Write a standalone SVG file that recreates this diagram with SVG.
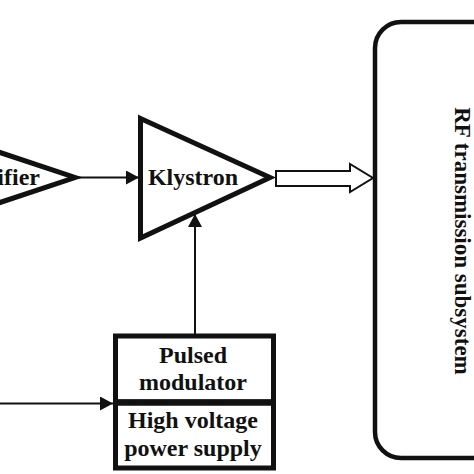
<svg xmlns="http://www.w3.org/2000/svg" width="474" height="474" viewBox="0 0 474 474">
<style>
.t{font-family:"Liberation Serif","Times New Roman",serif;font-weight:bold;font-size:24px;fill:#111;text-anchor:middle}
.s{fill:#fff;stroke:#111;stroke-width:5}
.c{fill:none;stroke:#111;stroke-width:2}
</style>
<defs><marker id="a" markerUnits="userSpaceOnUse" markerWidth="14" markerHeight="14" refX="13" refY="7" orient="auto"><path d="M0 0L13 7L0 14Z" fill="#111"/></marker></defs>
<rect width="474" height="474" fill="#fff"/>
<g id="amplifier"><path class="s" d="M-30 142.500L75 177.500L-30 212.500Z"/><text class="t" x="40" y="184.500" style="text-anchor:end">Amplifier</text></g>
<g id="klystron"><path class="s" d="M140.500 118.500L270 177.500L140.500 238Z"/><text class="t" x="193" y="185">Klystron</text></g>
<g id="modulator"><rect class="s" x="115.500" y="336" width="158" height="66"/><text class="t" x="193" y="363">Pulsed</text><text class="t" x="193" y="390">modulator</text></g>
<g id="hvps"><rect class="s" x="115.500" y="402.500" width="158" height="65.500"/><text class="t" x="193" y="428">High voltage</text><text class="t" x="193" y="455.500">power supply</text></g>
<g id="rf"><rect x="375" y="22" width="140" height="436" rx="26" fill="none" stroke="#111" stroke-width="4.500"/><text class="t" style="font-size:23px" transform="translate(455 241) rotate(90)">RF transmission subsystem</text></g>
<g id="connectors">
<path class="c" d="M76 177.500H139" marker-end="url(#a)"/>
<path class="c" d="M195 334V214" marker-end="url(#a)"/>
<path class="c" d="M0 403.500H113" marker-end="url(#a)"/>
<path d="M276 171H350V164L373 178L350 192V186H276Z" fill="#fff" stroke="#111" stroke-width="2"/>
<path d="M113 402.500H276" stroke="#111" stroke-width="6.500"/>
</g>
</svg>
